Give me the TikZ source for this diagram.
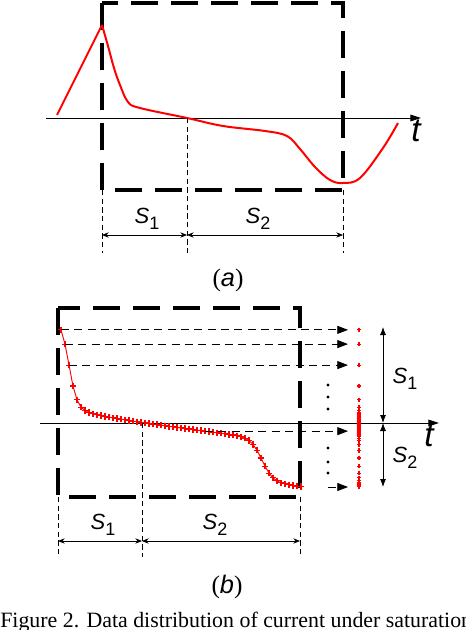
\documentclass[tikz,border=0pt]{standalone}
\usepackage{fontspec}
\setmainfont{Liberation Serif}
\setsansfont{Liberation Sans}
\usetikzlibrary{arrows.meta,positioning}

\newcommand{\Slab}[1]{\sffamily\itshape S\raisebox{-4.5pt}{\fontsize{13.5}{13.5}\selectfont\upshape #1}}

\begin{document}
\begin{tikzpicture}[x=0.75pt, y=-0.75pt,
        bigbox/.style={draw=black, line width=2.3pt, dash pattern=on 20pt off 10pt},
        guide/.style={draw=black, line width=0.5pt, dash pattern=on 4pt off 2.5pt},
        axis/.style={-{Triangle[length=8pt,width=5pt]}, line width=0.7pt},
        dim/.style={{Stealth[length=5pt,width=4pt]}-{Stealth[length=5pt,width=4pt]}, line width=0.6pt},
        vdim/.style={{Latex[length=6pt,width=4.5pt]}-{Latex[length=6pt,width=4.5pt]}, line width=0.6pt},
        proj/.style={-{Triangle[length=8pt,width=6pt]}, line width=0.6pt, dash pattern=on 6pt off 4pt},
        lab/.style={font=\fontsize{16.5}{16.5}\selectfont, inner sep=0pt},
        tlab/.style={font=\sffamily\itshape\fontsize{25}{25}\selectfont, inner sep=0pt},
        declare function={cur(\t)=423+0.13*(\t-142)-85/(1+exp(min((\t-69)/4,9)))-8*exp(-(\t-60)/30)+21.5*(1+tanh(max(min((\t-262)/11,4),-4)));}
    ]
    \useasboundingbox (0,0) rectangle (466,630);

    % (a) window and time axis
    \coordinate (aTL) at (102,3);
    \coordinate (aBR) at (343,190);
    \draw[bigbox] (aTL) rectangle (aBR);
    \coordinate (aO) at (46,118);
    \coordinate (aE) at (421,118);
    \draw[axis] (aO) -- (aE);
    \node[tlab] (ta) at (416,131) {t};

    % (a) current waveform
    \draw[red, line width=1.5pt] (57,115) -- (102,25);
    \draw[red, line width=1.5pt, line join=round] plot[smooth, tension=0.6] coordinates {(102,25) (108,46) (114,68) (120,85) (128,102) (140,108) (187,118) (223,126) (265,131) (287,136) (300,149) (315,167) (330,180) (343,183) (360,178) (383,148) (398,123)};

    % (a) segments S1, S2
    \coordinate (a1) at (102,235);
    \coordinate (a2) at (187,235);
    \coordinate (a3) at (343,235);
    \draw[guide] (aTL |- aBR) -- ++(0,63);
    \draw[guide] (a2 |- aO) -- ++(0,135);
    \draw[guide] (aBR) -- ++(0,63);
    \draw[dim] (a1) -- (a2);
    \draw[dim] (a2) -- (a3);
    \node[lab] (sa1) at (147,219) {\Slab{1}};
    \node[lab] (sa2) at (258,219) {\Slab{2}};
    \node[lab, font=\fontsize{19}{19}\selectfont] (capa) at (228,280) {(\textsf{\itshape a})};

    % (b) window and time axis
    \coordinate (bTL) at (58,308);
    \coordinate (bBR) at (300,497);
    \draw[bigbox] (bTL) rectangle (bBR);
    \coordinate (bO) at (40,423);
    \coordinate (bE) at (439,423);
    \draw[axis] (bO) -- (bE);
    \node[tlab] (tb) at (429,436) {t};

    % (b) sampled current
    \draw[red, line width=0.7pt, mark=+, mark size=2.4pt, mark options={line width=0.8pt}] plot[domain=61:301, samples=61] (\x, {cur(\x)});

    % (b) projection of the samples
    \coordinate (tip) at (348,0);
    \path (61,{cur(61)}) coordinate (p1)
          (65,{cur(65)}) coordinate (p2)
          (69,{cur(69)}) coordinate (p3)
          (205,{cur(205)}) coordinate (p4)
          (328,487) coordinate (p5);
    \foreach \p in {p1,p2,p3,p4,p5}
        \draw[proj] (\p) -- (\p -| tip);
    \foreach \yy in {385,397,409,448,462,473}
        \fill (328,\yy) circle (1.3pt);
    \draw[red, line width=0.8pt, mark=+, mark size=1.7pt, only marks] plot[domain=61:301, samples=61] (359, {cur(\x)});

    % (b) amplitude ranges S1, S2
    \coordinate (r0) at (383,327);
    \coordinate (r1) at (383,423);
    \coordinate (r2) at (383,487);
    \draw[vdim] (r0) -- (r1);
    \draw[vdim] (r1) -- (r2);
    \node[lab] (sr1) at (405,379) {\Slab{1}};
    \node[lab] (sr2) at (405,458) {\Slab{2}};

    % (b) segments S1, S2
    \coordinate (b1) at (58,541);
    \coordinate (b2) at (142,541);
    \coordinate (b3) at (300,541);
    \draw[guide] (bTL |- bBR) -- ++(0,60);
    \draw[guide] (b2 |- bO) -- ++(0,134);
    \draw[guide] (bBR) -- ++(0,60);
    \draw[dim] (b1) -- (b2);
    \draw[dim] (b2) -- (b3);
    \node[lab] (sb1) at (103,525) {\Slab{1}};
    \node[lab] (sb2) at (215,525) {\Slab{2}};
    \node[lab, font=\fontsize{19}{19}\selectfont] (capb) at (227,587) {(\textsf{\itshape b})};

    % caption
    \node[anchor=base west, inner sep=0pt, font=\fontsize{16.4}{16.4}\selectfont] (fig) at (0,627) {Figure 2. Data distribution of current under saturation};

\end{tikzpicture}
\end{document}
